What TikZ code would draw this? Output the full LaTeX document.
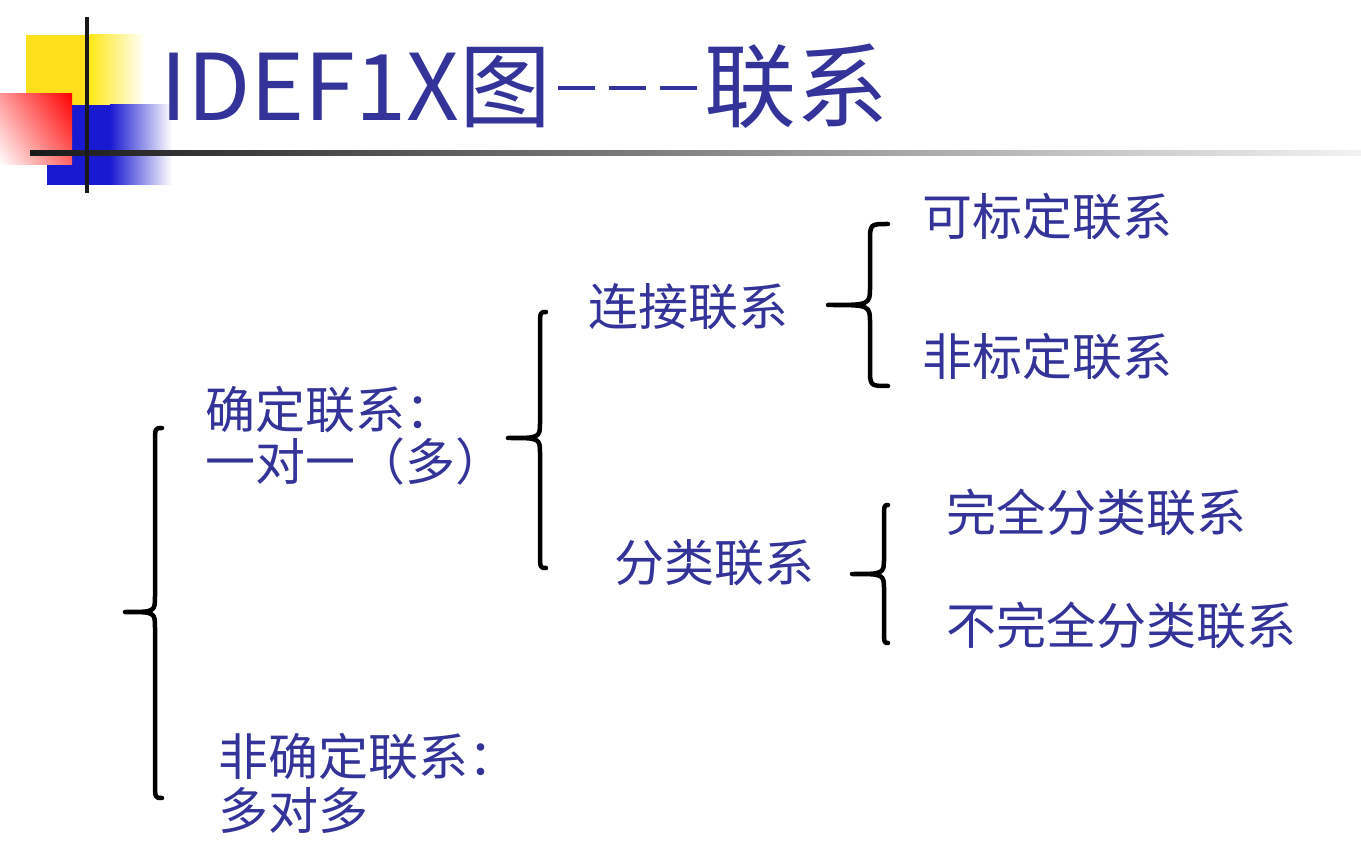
\documentclass[tikz,border=0pt]{standalone}
\usepackage{fontspec}
\setmainfont{Noto Sans CJK SC}[Ligatures=NoCommon]
\usetikzlibrary{shadings}
\definecolor{tx}{HTML}{333399}
\newcommand\mybrace[7]{% ends, vertical, tip, top, bottom, mid, r
  \draw[brc] (#1,#4) .. controls (#2,#4) .. (#2,#4+#7) -- (#2,#6-#7)
    .. controls (#2,#6) .. (#3,#6) .. controls (#2,#6) .. (#2,#6+#7)
    -- (#2,#5-#7) .. controls (#2,#5) .. (#1,#5);}
\newcommand\tdash{\hspace{7pt}\raisebox{30pt}{\rule{37pt}{4pt}}\hspace{7pt}}
\begin{document}
\begin{tikzpicture}[x=1pt,y=-1pt,
  lbl/.style={anchor=west,inner sep=0pt,text=tx,font=\fontsize{50}{54}\selectfont},
  brc/.style={draw=black,line width=4.5pt,line cap=round,line join=round}]
\useasboundingbox (0,0) rectangle (1361,866);
% decoration
\fill[yellow!80!orange!90] (26,35) rectangle (90,105);
\shade[left color=yellow!80!orange!90,right color=white] (90,35) rectangle (145,105);
\fill[blue!80!black!90] (47,105) rectangle (110,185);
\shade[left color=blue!80!black!90,right color=white] (110,105) rectangle (172,185);
\shade[upper right=red,lower left=white,upper left=red!40,lower right=red!60] (0,94) rectangle (72,165);
\shade[left color=black!90,right color=black!5] (30,151) rectangle (1361,156);
\fill[black!90] (85,17) rectangle (89,193);
\node[anchor=west,inner sep=0pt,text=tx,font=\fontsize{92}{100}\selectfont] (title) at (160,86) {IDEF1X图\tdash\tdash\tdash 联系};
% labels
\node[lbl] (a1) at (205,410) {确定联系：};
\node[lbl] (a2) at (205,462) {一对一（多）};
\node[lbl] (b1) at (218,757) {非确定联系：};
\node[lbl] (b2) at (218,810) {多对多};
\node[lbl] (c) at (588,307) {连接联系};
\node[lbl] (d) at (614,563) {分类联系};
\node[lbl] (c1) at (922,217) {可标定联系};
\node[lbl] (c2) at (922,357) {非标定联系};
\node[lbl] (d1) at (946,512) {完全分类联系};
\node[lbl] (d2) at (946,625) {不完全分类联系};
% braces
\mybrace{162}{155}{125}{428}{798}{612}{16}
\mybrace{546}{540}{508}{312}{568}{438}{16}
\mybrace{888}{870}{828}{224}{386}{305}{18}
\mybrace{888}{884}{852}{505}{643}{574}{16}
\end{tikzpicture}
\end{document}
